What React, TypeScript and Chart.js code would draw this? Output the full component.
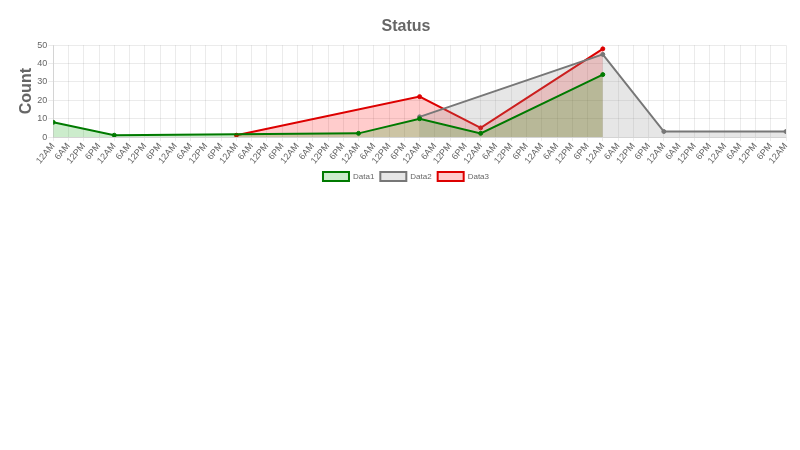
import React, { useEffect, useRef } from 'react';
import { Chart, registerables, ChartConfiguration } from 'chart.js';

Chart.register(...registerables);

// hours since the first 12AM
const data1Hours = [0, 24, 120, 144, 168, 216];
const data1Counts = [8, 1, 2, 10, 2, 34];

const data2Hours = [144, 216, 240, 288];
const data2Counts = [11, 45, 3, 3];

const data3Hours = [72, 144, 168, 216];
const data3Counts = [1, 22, 5, 48];

const hourLabels: Record<number, string> = { 0: '12AM', 6: '6AM', 12: '12PM', 18: '6PM' };

const toPoints = (xs: number[], ys: number[]) => xs.map((x, i) => ({ x, y: ys[i] }));

const fontFamily = '"Liberation Sans", Arial, Helvetica, sans-serif';

const App: React.FC = () => {
    const canvasRef = useRef<HTMLCanvasElement>(null);
    const chartRef = useRef<Chart | null>(null);

    useEffect(() => {
        if (!canvasRef.current) return;
        const ctx = canvasRef.current.getContext('2d');
        if (!ctx) return;

        const series = [
            { label: 'Data1', xs: data1Hours, ys: data1Counts, line: '#007a00', area: 'rgba(0, 160, 0, 0.2)' },
            { label: 'Data2', xs: data2Hours, ys: data2Counts, line: '#777777', area: 'rgba(140, 140, 140, 0.22)' },
            { label: 'Data3', xs: data3Hours, ys: data3Counts, line: '#dd0000', area: 'rgba(255, 0, 0, 0.2)' },
        ];

        const config: ChartConfiguration<'line'> = {
            type: 'line',
            data: {
                datasets: series.map(s => ({
                    label: s.label,
                    data: toPoints(s.xs, s.ys),
                    borderColor: s.line,
                    backgroundColor: s.area,
                    pointBackgroundColor: s.line,
                    pointBorderColor: s.line,
                    pointRadius: 2,
                    pointBorderWidth: 1,
                    borderWidth: 2,
                    tension: 0,
                    fill: 'origin',
                })),
            },
            options: {
                animation: false,
                responsive: true,
                maintainAspectRatio: false,
                layout: { padding: { left: 3, right: 3, top: 0 } },
                plugins: {
                    title: {
                        display: true,
                        text: 'Status',
                        color: '#666',
                        font: { family: fontFamily, size: 16, weight: 'bold' },
                        padding: { top: 9, bottom: 9 },
                    },
                    legend: {
                        position: 'bottom',
                        labels: {
                            color: '#666',
                            boxWidth: 26,
                            boxHeight: 9,
                            padding: 6,
                            font: { family: fontFamily, size: 8 },
                        },
                    },
                    tooltip: { enabled: false },
                },
                scales: {
                    x: {
                        type: 'linear',
                        min: 0,
                        max: 288,
                        grid: { color: 'rgba(0,0,0,0.08)', tickLength: 4 },
                        ticks: {
                            stepSize: 6,
                            autoSkip: false,
                            maxRotation: 50,
                            minRotation: 50,
                            color: '#666',
                            padding: 0,
                            font: { family: fontFamily, size: 9 },
                            callback: (value) => hourLabels[Number(value) % 24] ?? '',
                        },
                    },
                    y: {
                        min: 0,
                        max: 50,
                        grid: { color: 'rgba(0,0,0,0.08)', tickLength: 5 },
                        title: {
                            display: true,
                            text: 'Count',
                            color: '#666',
                            font: { family: fontFamily, size: 16, weight: 'bold' },
                            padding: { top: 0, bottom: 0 },
                        },
                        ticks: {
                            stepSize: 10,
                            color: '#666',
                            padding: 1,
                            font: { family: fontFamily, size: 9 },
                        },
                    },
                    // empty spacer on the right side of the plot
                    spacer: {
                        type: 'linear',
                        position: 'right',
                        display: true,
                        grid: { display: false },
                        border: { display: false },
                        ticks: { display: false },
                        afterFit: (scale) => { scale.width = 9; },
                    },
                },
            },
        };

        if (chartRef.current) {
            chartRef.current.destroy();
        }
        chartRef.current = new Chart(ctx, config);

        return () => {
            chartRef.current?.destroy();
            chartRef.current = null;
        };
    }, []);

    return (
        <div style={{ position: 'relative', marginLeft: '6px', width: '784px', height: '183px' }}>
            <canvas ref={canvasRef}></canvas>
        </div>
    );
};

export default App;
